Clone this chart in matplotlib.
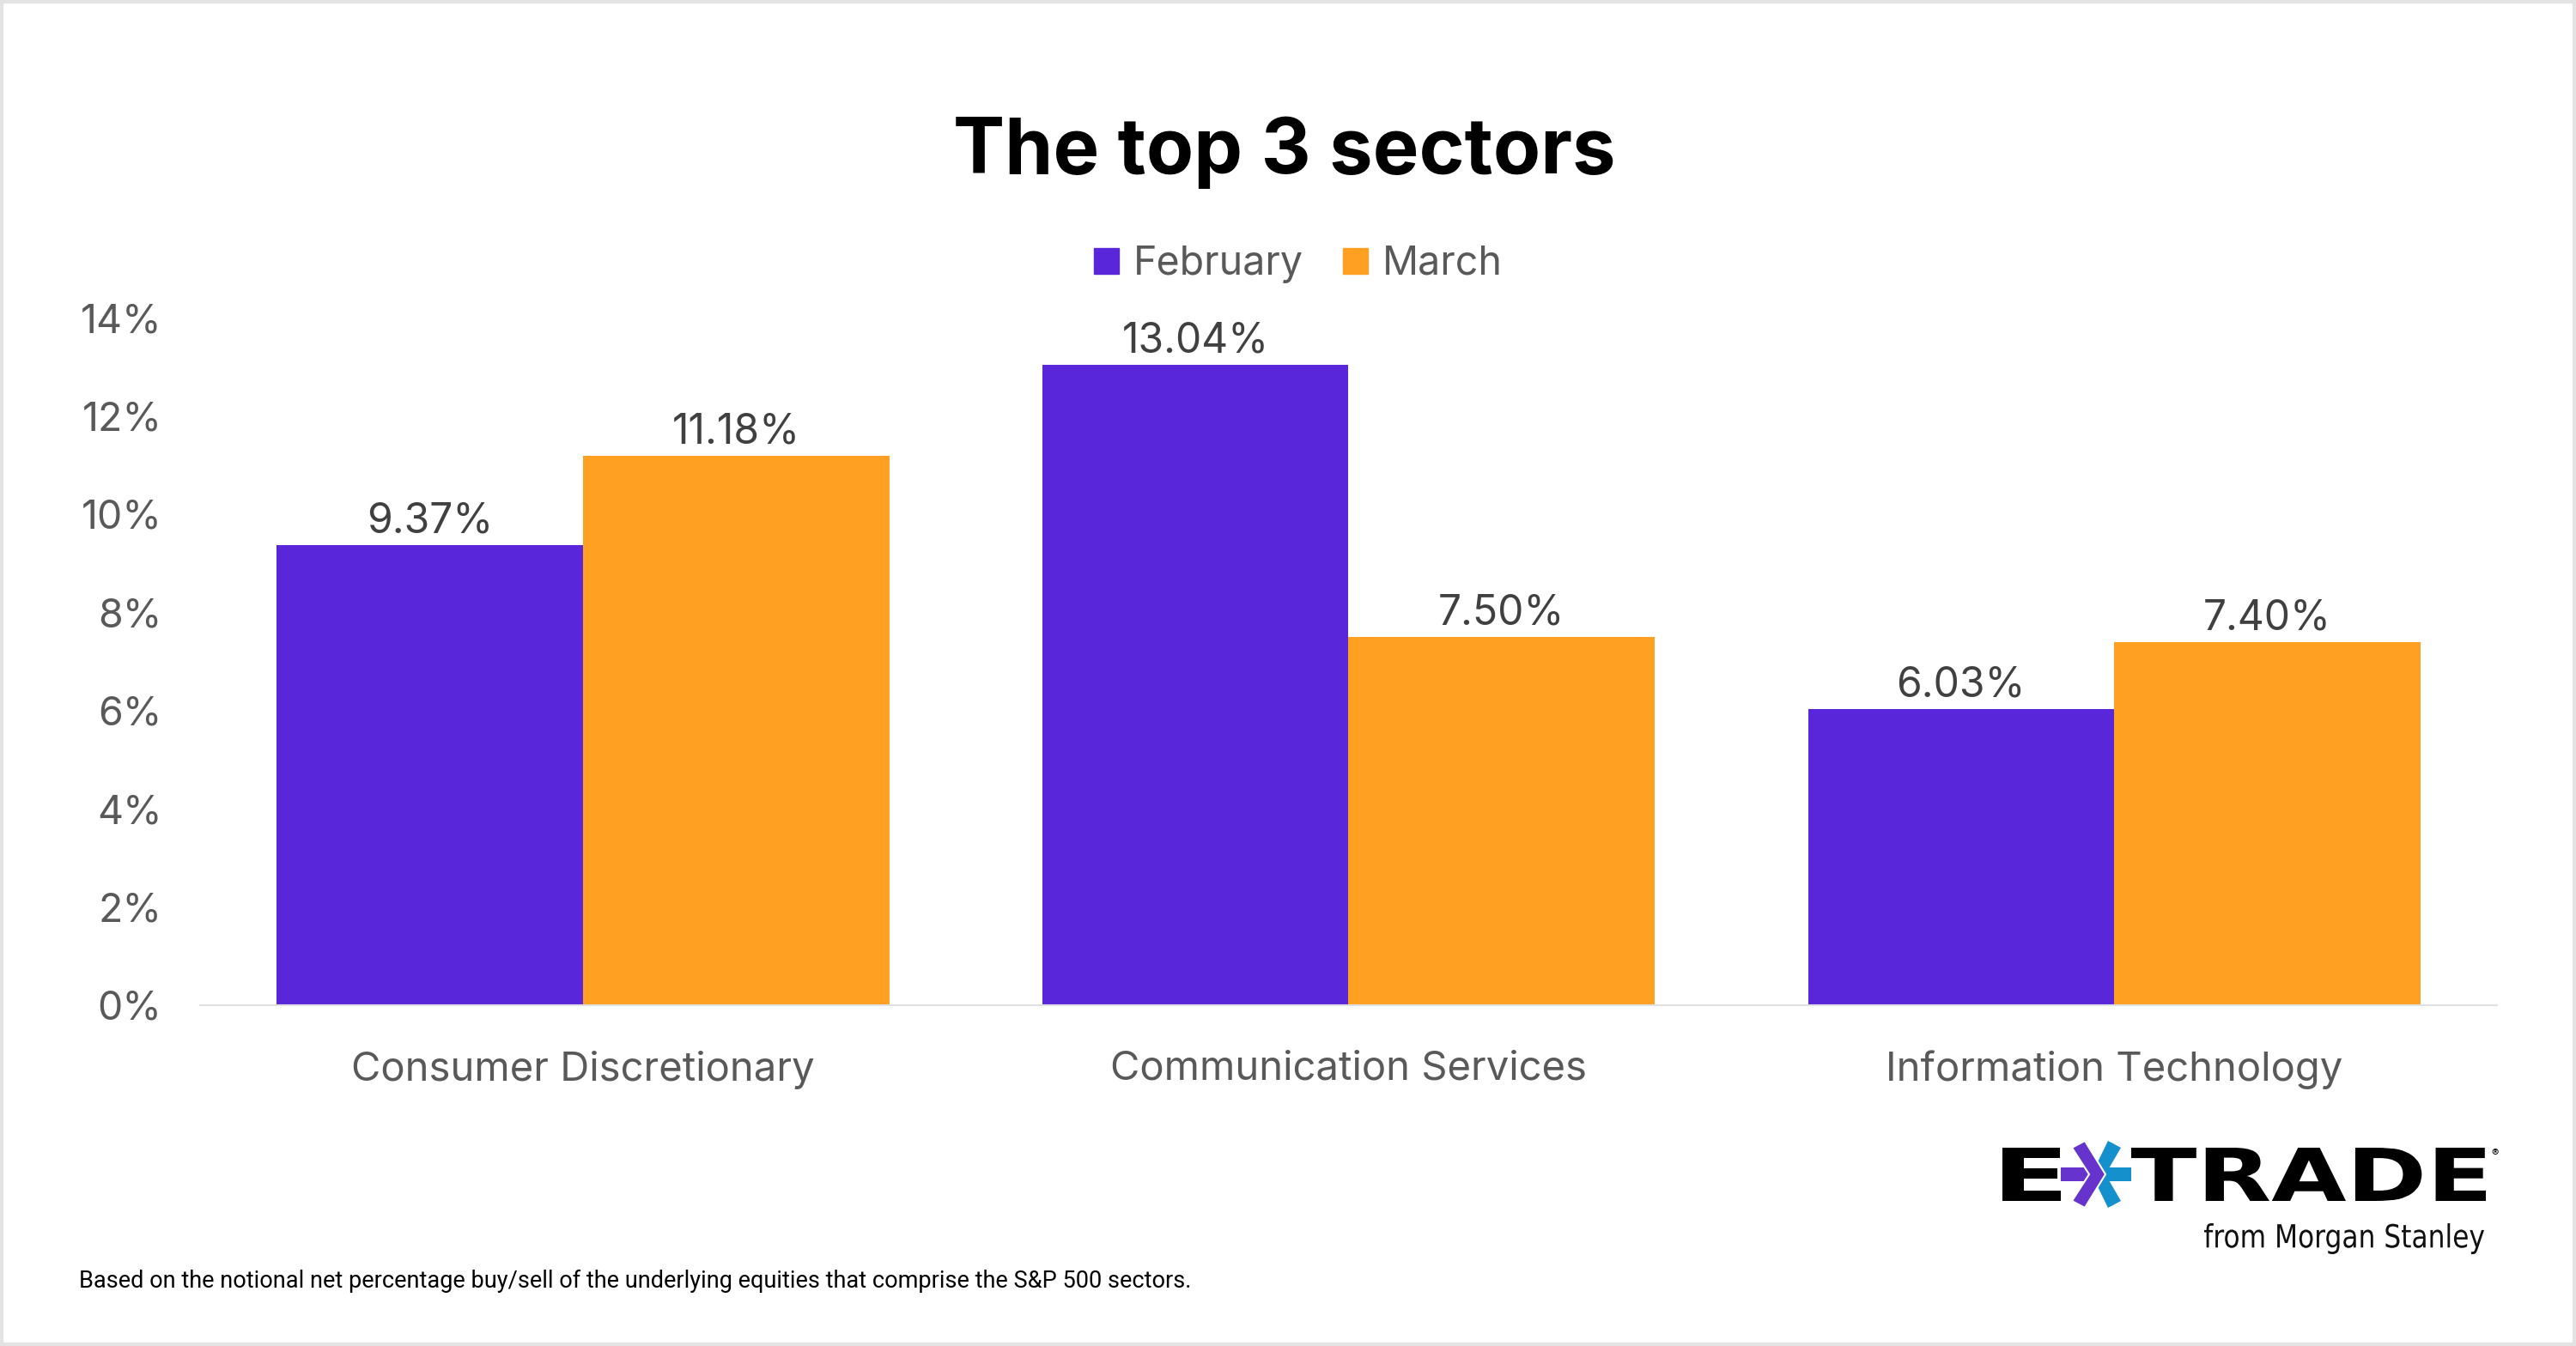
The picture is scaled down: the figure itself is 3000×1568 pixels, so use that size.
import matplotlib
matplotlib.use("Agg")
import matplotlib.pyplot as plt
import numpy as np
from matplotlib.patches import Rectangle, Polygon, PathPatch
from matplotlib.textpath import TextPath
from matplotlib.font_manager import FontProperties
from matplotlib.transforms import Affine2D

# data
sectors = ["Consumer Discretionary", "Communication Services", "Information Technology"]
february = [9.37, 13.04, 6.03]
march = [11.18, 7.50, 7.40]
series_names = ["February", "March"]
yticks = [0, 2, 4, 6, 8, 10, 12, 14]

title = "The top 3 sectors"
footnote = "Based on the notional net percentage buy/sell of the underlying equities that comprise the S&P 500 sectors."

PURPLE = "#5927d9"
ORANGE = "#ffa022"
GRAY = "#595959"

W, H = 3000, 1568
plt.rcParams["font.family"] = ["Inter", "DejaVu Sans"]

fig = plt.figure(figsize=(W / 100, H / 100), dpi=100)
fig.patch.set_facecolor("white")


def px(x, y):
    # reference pixel coords (top-left origin) -> figure fraction
    return x / W, 1 - y / H


ax = fig.add_axes([233 / W, (H - 1171) / H, (2908 - 233) / W, (1171 - 370) / H])
x = np.arange(len(sectors))
bw = 0.4
bars_f = ax.bar(x - bw / 2, february, bw, color=PURPLE, label=series_names[0])
bars_m = ax.bar(x + bw / 2, march, bw, color=ORANGE, label=series_names[1])

for bars, vals in [(bars_f, february), (bars_m, march)]:
    for b, v in zip(bars, vals):
        ax.annotate(f"{v:.2f}%", (b.get_x() + b.get_width() / 2, v),
                    xytext=(0, 10.5), textcoords="offset points",
                    ha="center", va="baseline", fontsize=34.5, color="#404040")

ax.set_xlim(-0.5, 2.5)
ax.set_ylim(0, 14)
ax.set_yticks(yticks)
ax.set_yticklabels([f"{t}%" for t in yticks])
ax.set_xticks(x)
ax.set_xticklabels(sectors)
ax.tick_params(axis="y", length=0, pad=32, labelsize=33.5, labelcolor=GRAY)
ax.tick_params(axis="x", length=0, pad=38, labelsize=34, labelcolor=GRAY)
for s in ["top", "right", "left"]:
    ax.spines[s].set_visible(False)
ax.spines["bottom"].set_color("#e0e0e0")
ax.spines["bottom"].set_linewidth(1.5)
ax.patch.set_alpha(0)

# title and legend
tx, ty = px(1496, 202)
fig.text(tx, ty, title, ha="center", va="baseline", fontsize=65, fontweight="bold", color="black")

handles = [Rectangle((0, 0), 1, 1, color=PURPLE), Rectangle((0, 0), 1, 1, color=ORANGE)]
lx, ly = px(1512, 308)
leg = fig.legend(handles, series_names, loc="center", bbox_to_anchor=(lx, ly), ncol=2,
                 frameon=False, fontsize=33.5, handlelength=0.62, handleheight=0.62,
                 handletextpad=0.37, columnspacing=1.0, borderpad=0, borderaxespad=0)
for t in leg.get_texts():
    t.set_color(GRAY)

# footnote
fx, fy = px(92, 1500)
fig.text(fx, fy, footnote, ha="left", va="baseline", fontsize=19.5, color="black",
         family=["Roboto", "DejaVu Sans"])


# logo
def fit_text(s, x0, y0, x1, y1, color, prop):
    p = TextPath((0, 0), s, size=100, prop=prop)
    bb = p.get_extents()
    tr = (Affine2D().translate(-bb.x0, -bb.y0)
          .scale((x1 - x0) / bb.width / W, (y1 - y0) / bb.height / H)
          .translate(x0 / W, 1 - y1 / H))
    fig.patches.append(PathPatch(p, transform=tr + fig.transFigure, color=color, lw=0))


bold = FontProperties(family="DejaVu Sans", weight="bold")
fit_text("E", 2332, 1337, 2400, 1399, "black", bold)
fit_text("TRADE", 2482, 1337, 2895, 1399, "black", bold)
fit_text("from Morgan Stanley", 2567, 1425, 2893, 1461, "#111111",
         FontProperties(family="Liberation Sans Narrow"))
rx, ry = px(2906, 1344)
fig.text(rx, ry, "®", ha="center", va="center", fontsize=9, color="black")


def poly(pts, color, ec="none", lw=0):
    fig.patches.append(Polygon([px(a, b) for a, b in pts], closed=True, transform=fig.transFigure,
                               facecolor=color, edgecolor=ec, lw=lw))


BLUE = "#1490cc"
LPURP = "#6633cc"
poly([(2445, 1360), (2482, 1360), (2482, 1376), (2445, 1376)], BLUE)
poly([(2455, 1329), (2470, 1337), (2452, 1368), (2470, 1399), (2455, 1407), (2436, 1368)], BLUE)
poly([(2400, 1360), (2440, 1360), (2440, 1376), (2400, 1376)], LPURP)
poly([(2413, 1337), (2428, 1329), (2452, 1368), (2428, 1407), (2413, 1399), (2433, 1368)],
     LPURP, ec="white", lw=1.5)

# light border
fig.patches.append(Rectangle((0, 0), 1, 1, transform=fig.transFigure, fill=False,
                             edgecolor="#e3e3e3", lw=6))

fig.savefig("out.png", dpi=100)
